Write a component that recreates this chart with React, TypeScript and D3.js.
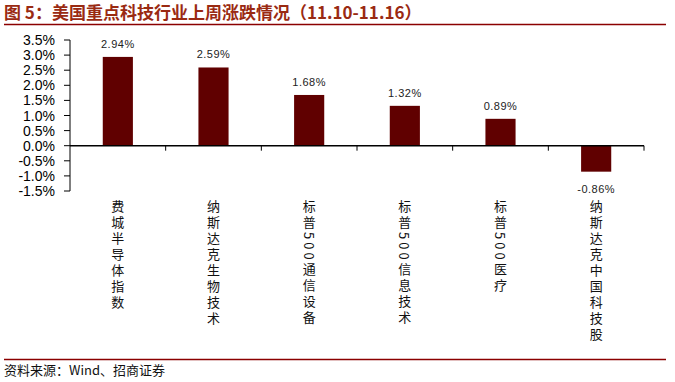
import React from "react";
import * as d3 from "d3";

const categories = [
  "费城半导体指数",
  "纳斯达克生物技术",
  "标普500通信设备",
  "标普500信息技术",
  "标普500医疗",
  "纳斯达克中国科技股",
];
const values = [2.94, 2.59, 1.68, 1.32, 0.89, -0.86];
const yTicks = [3.5, 3.0, 2.5, 2.0, 1.5, 1.0, 0.5, 0.0, -0.5, -1.0, -1.5];
const title = "图 5：美国重点科技行业上周涨跌情况（11.10-11.16）";
const source = "资料来源：Wind、招商证券";

const W = 675;
const H = 382;
const plot = { left: 70, right: 644, top: 40, bottom: 191 };
const barColor = "#600000";
const lineColor = "#8b0000";
const cjk = "'Noto Sans CJK SC', 'Noto Sans', sans-serif";

export default function App() {
  const x = d3
    .scaleBand<string>()
    .domain(categories)
    .range([plot.left, plot.right])
    .paddingInner(0.685)
    .paddingOuter(0.3425);
  const y = d3.scaleLinear().domain([-1.5, 3.5]).range([plot.bottom, plot.top]);
  const step = x.step();
  const y0 = y(0);

  return (
    <svg
      width={W}
      height={H}
      style={{ position: "absolute", left: 0, top: 0, background: "#fff" }}
    >
      <text
        x={4}
        y={19}
        fontFamily={cjk}
        fontWeight="bold"
        fontSize={17}
        fill="#9a2a12"
      >
        {title}
      </text>
      <line x1={4} x2={666} y1={24.5} y2={24.5} stroke={lineColor} strokeWidth={1.5} />

      {/* y axis */}
      <line x1={plot.left} x2={plot.left} y1={plot.top} y2={plot.bottom} stroke="#000" strokeWidth={1} />
      {yTicks.map((t) => (
        <g key={t}>
          <line
            x1={plot.left - 6}
            x2={plot.left}
            y1={y(t)}
            y2={y(t)}
            stroke="#000"
            strokeWidth={1}
          />
          <text
            x={55}
            y={y(t)}
            dy="0.36em"
            textAnchor="end"
            fontFamily="'Liberation Sans', Arial, sans-serif"
            fontSize={14}
            fill="#000"
          >
            {t.toFixed(1) + "%"}
          </text>
        </g>
      ))}

      {/* bars */}
      {categories.map((c, i) => {
        const v = values[i];
        const bx = x(c)!;
        const top = Math.min(y(v), y0);
        const h = Math.abs(y(v) - y0);
        const cx = bx + x.bandwidth() / 2;
        return (
          <g key={c}>
            <rect x={bx} y={top} width={x.bandwidth()} height={h} fill={barColor} />
            <text
              x={cx}
              y={v >= 0 ? y(v) - 9 : y(v) + 21}
              textAnchor="middle"
              fontFamily="'Liberation Sans', Arial, sans-serif"
              fontSize={11}
              fill="#222"
              letterSpacing={0.5}
            >
              {v.toFixed(2) + "%"}
            </text>
            <text
              x={cx}
              y={200}
              fontFamily={cjk}
              fontSize={13}
              fill="#111"
              letterSpacing={3}
              style={{ writingMode: "vertical-rl" } as any}
            >
              {c}
            </text>
          </g>
        );
      })}

      {/* zero line and category ticks */}
      <line x1={plot.left} x2={plot.right} y1={y0} y2={y0} stroke="#000" strokeWidth={1.5} />
      {categories.map((c, i) => (
        <line
          key={"t" + i}
          x1={plot.left + step * (i + 1)}
          x2={plot.left + step * (i + 1)}
          y1={y0}
          y2={y0 + 5}
          stroke="#000"
          strokeWidth={1}
        />
      ))}

      <line x1={4} x2={666} y1={359.5} y2={359.5} stroke={lineColor} strokeWidth={1.5} />
      <text x={4} y={375} fontFamily={cjk} fontSize={13} fill="#111">
        {source}
      </text>
    </svg>
  );
}
